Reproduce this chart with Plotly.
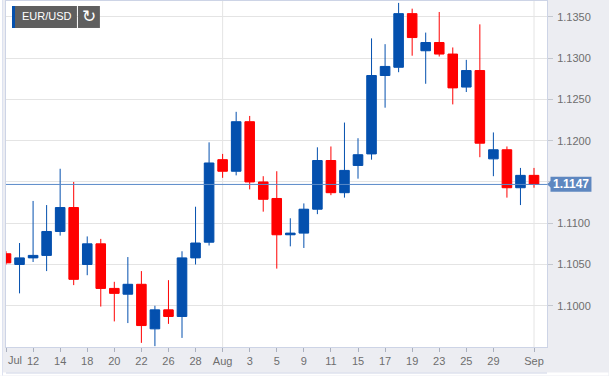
import plotly.graph_objects as go

idx = list(range(40))
opens = [1.1063,1.1050,1.1058,1.1061,1.1090,1.1119,1.1050,1.1075,1.1021,1.1014,
         1.1026,1.0972,1.0995,1.0987,1.1058,1.1077,1.1177,1.1163,1.1223,1.1150,
         1.1130,1.1086,1.1088,1.1117,1.1176,1.1137,1.1170,1.1184,1.1279,1.1289,
         1.1354,1.1309,1.1319,1.1305,1.1265,1.1285,1.1178,1.1189,1.1143,1.1158]
closes = [1.1052,1.1058,1.1061,1.1090,1.1119,1.1032,1.1075,1.1021,1.1015,1.1026,
          1.0976,1.0995,1.0987,1.1058,1.1076,1.1173,1.1163,1.1223,1.1150,1.1129,
          1.1086,1.1088,1.1117,1.1176,1.1137,1.1164,1.1183,1.1279,1.1290,1.1354,
          1.1325,1.1319,1.1305,1.1264,1.1285,1.1197,1.1189,1.1143,1.1158,1.1147]
highs = [1.1066,1.1076,1.1127,1.1122,1.1166,1.1150,1.1084,1.1081,1.1029,1.1059,
         1.1042,1.1000,1.1031,1.1066,1.1120,1.1198,1.1184,1.1235,1.1230,1.1157,
         1.1163,1.1106,1.1124,1.1192,1.1193,1.1222,1.1203,1.1324,1.1317,1.1367,
         1.1360,1.1331,1.1356,1.1313,1.1298,1.1341,1.1210,1.1193,1.1167,1.1167]
lows = [1.1050,1.1015,1.1053,1.1042,1.1085,1.1025,1.1037,1.0999,1.0981,1.0979,
        1.0955,1.0951,1.0978,1.0961,1.1050,1.1073,1.1155,1.1158,1.1141,1.1114,
        1.1045,1.1072,1.1070,1.1111,1.1134,1.1131,1.1154,1.1177,1.1240,1.1283,
        1.1303,1.1269,1.1302,1.1244,1.1259,1.1180,1.1157,1.1131,1.1122,1.1143]

first_label = "Jul"
x_tick_idx = [0,2,4,6,8,10,12,14,16,18,20,22,24,26,28,30,32,34,36,39]
x_tick_labels = ["","12","14","18","20","22","26","28","Aug","3","5","9","11","15","17","19","23","25","29","Sep"]
month_idx = [16,39]
y_ticks = [1.1000,1.1050,1.1100,1.1150,1.1200,1.1250,1.1300,1.1350]
y_tick_labels = ["1.1000","1.1050","1.1100","","1.1200","1.1250","1.1300","1.1350"]
last_price = 1.1147
symbol = "EUR/USD"

W,H = 609,376
L,R,T,B = 6,547.5,1,347.5
BLUE,RED = "#0450AE","#FF0000"
FONT = "Liberation Sans"
LABEL = "#6E6E6E"
def px(v): return (v-L)/(R-L)
def py(v): return (B-v)/(B-T)
def rect(x0,y0,x1,y1,c):
    return dict(type="rect",xref="paper",yref="paper",x0=px(x0),x1=px(x1),y0=py(y0),y1=py(y1),
                fillcolor=c,line_width=0,layer="above")

fig = go.Figure()
fig.add_trace(go.Bar(
    x=idx, base=[min(o,c) for o,c in zip(opens,closes)],
    y=[abs(o-c) for o,c in zip(opens,closes)],
    width=0.78,
    marker=dict(color=["#A9C2E4" if c>=o else "#FFA8A8" for o,c in zip(opens,closes)],
                line=dict(width=0)),
    hoverinfo="skip", showlegend=False))
fig.add_trace(go.Candlestick(
    x=idx, open=opens, high=highs, low=lows, close=closes, whiskerwidth=0,
    increasing=dict(line=dict(color=BLUE,width=1),fillcolor=BLUE),
    decreasing=dict(line=dict(color=RED,width=1),fillcolor=RED),
    showlegend=False))

shapes = [dict(type="line",xref="x",yref="paper",x0=m,x1=m,y0=0,y1=1,
               line=dict(color="#E4E4E4",width=1),layer="below") for m in month_idx]
shapes += [
    dict(type="line",xref="paper",yref="y",x0=0,x1=1,y0=last_price,y1=last_price,
         line=dict(color="#5B8BC9",width=1),layer="above"),
    rect(12,6,77,28,"#5F5F5F"), rect(12,6,15,28,BLUE), rect(78,6,100,28,"#5F5F5F"),
    rect(551,177,592,192,"#5E87C0"),
    dict(type="path",xref="paper",yref="paper",layer="above",fillcolor="#5E87C0",line_width=0,
         path=f"M {px(547.5)},{py(184.5)} L {px(551.5)},{py(181)} L {px(551.5)},{py(188)} Z"),
    rect(0,373,609,376,"#FFFFFF"), rect(6,373,547.5,374,"#CDD4E6"),
    rect(0,0,2,376,"#FFFFFF"), rect(2,0,3,376,"#DDE2F0"),
]
annotations = [
    dict(xref="paper",yref="paper",x=px(21),y=py(16.5),text=symbol,showarrow=False,xanchor="left",yanchor="middle",
         xshift=-1,font=dict(family=FONT,size=11,color="#FFFFFF")),
    dict(xref="paper",yref="paper",x=px(89),y=py(16.5),text="↻",showarrow=False,xanchor="center",yanchor="middle",
         font=dict(family="DejaVu Sans",size=17,color="#FFFFFF")),
    dict(xref="paper",yref="paper",x=px(572),y=py(184.5),text=f"<b>{last_price:.4f}</b>",showarrow=False,xanchor="center",yanchor="middle",
         font=dict(family=FONT,size=12,color="#FFFFFF")),
    dict(xref="paper",yref="paper",x=px(5.5),y=py(360.5),text=first_label,showarrow=False,xanchor="left",yanchor="middle",
         font=dict(family=FONT,size=11,color=LABEL)),
]
fig.update_layout(
    width=W,height=H,autosize=False,
    margin=dict(l=L,r=W-R,t=T,b=H-B,pad=0,autoexpand=False),
    paper_bgcolor="#ECEDF2",plot_bgcolor="#FFFFFF",
    boxgap=0.30,boxgroupgap=0,barmode="overlay",
    shapes=shapes,annotations=annotations,
    font=dict(family=FONT,size=11,color=LABEL),
    xaxis=dict(range=[0,39.96],tickvals=x_tick_idx,ticktext=x_tick_labels,showgrid=False,zeroline=False,
               rangeslider=dict(visible=False),showline=True,mirror=True,linecolor="#CDD4E6",linewidth=1,
               ticks="outside",ticklen=4,tickcolor="#AAB0BE",tickwidth=1,ticklabelstandoff=0,tickangle=0,
               tickfont=dict(family=FONT,size=11,color=LABEL)),
    yaxis=dict(side="right",range=[1.0950,1.13693],tickvals=y_ticks,ticktext=y_tick_labels,showgrid=True,
               gridcolor="#E4E4E4",gridwidth=1,zeroline=False,showline=True,mirror=True,linecolor="#CDD4E6",linewidth=1,
               ticks="outside",ticklen=5,tickcolor="#C4C8D0",tickwidth=1,ticklabelstandoff=2,
               tickfont=dict(family=FONT,size=11,color=LABEL)),
)
fig.write_html("out.html", config=dict(displayModeBar=False),
               post_script="document.body.style.margin='0';document.body.style.overflow='hidden';")
